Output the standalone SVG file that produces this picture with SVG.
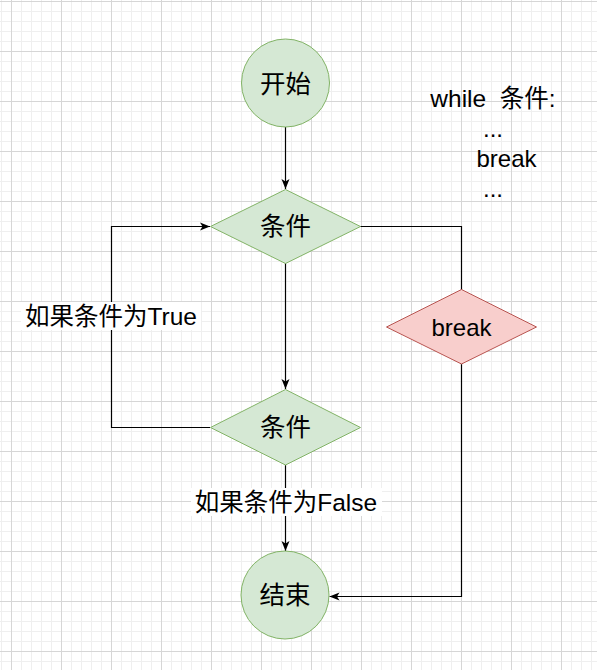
<svg xmlns="http://www.w3.org/2000/svg" width="597" height="670" viewBox="0 0 597 670">
<defs>
<pattern id="minor" x="1" y="1" width="10" height="10" patternUnits="userSpaceOnUse">
<path d="M0 0.5H10M0.5 0V10" fill="none" stroke="#efefef" stroke-width="1"/>
</pattern>
<pattern id="major" x="11" y="1" width="50" height="50" patternUnits="userSpaceOnUse">
<path d="M0 0.5H50M0.5 0V50" fill="none" stroke="#d6d6d6" stroke-width="1"/>
</pattern>
<marker id="arr" viewBox="0 0 10 10" refX="10" refY="5" markerWidth="10" markerHeight="10" markerUnits="userSpaceOnUse" orient="auto">
<path d="M0 1L10 5L0 9L2.5 5Z" fill="#000"/>
</marker>
</defs>
<style>
text{font-family:"Liberation Sans","Noto Sans CJK SC",sans-serif;font-size:24px;fill:#000;text-anchor:middle}
.cjk{font-size:25.5px}
.mix{font-size:24.5px}
.g{fill:#d5e8d4;stroke:#82b366;stroke-width:1}
.r{fill:#f8cecc;stroke:#b85450;stroke-width:1}
.c{fill:none;stroke:#000;stroke-width:1.2}
.lbl{fill:#fff}
</style>
<rect width="597" height="670" fill="#fff"/>
<rect width="597" height="670" fill="url(#minor)"/>
<rect width="597" height="670" fill="url(#major)"/>
<g id="connectors">
<path class="c" d="M285.5 127V189" marker-end="url(#arr)"/>
<path class="c" d="M285.5 263V389" marker-end="url(#arr)"/>
<path class="c" d="M210 427.5H111.5V226.5H210" marker-end="url(#arr)"/>
<path class="c" d="M360 226.5H461.5V290"/>
<path class="c" d="M461.5 364V596.5H329.5" marker-end="url(#arr)"/>
<path class="c" d="M285.5 465V551" marker-end="url(#arr)"/>
<rect class="lbl" x="21" y="302" width="180" height="28"/>
<text class="mix" x="111" y="325">如果条件为True</text>
<rect class="lbl" x="191" y="488" width="191" height="28"/>
<text class="mix" x="286" y="511">如果条件为False</text>
</g>
<g id="start">
<circle class="g" cx="285.5" cy="83" r="44"/>
<text class="cjk" x="285.5" y="93">开始</text>
</g>
<g id="cond1">
<path class="g" d="M285.5 189.5L360.5 226.5L285.5 263.5L210.5 226.5Z"/>
<text class="cjk" x="285.5" y="235">条件</text>
</g>
<g id="cond2">
<path class="g" d="M285.5 389.5L360.5 427.5L285.5 465L210.5 427.5Z"/>
<text class="cjk" x="285.5" y="436">条件</text>
</g>
<g id="break">
<path class="r" d="M461.5 289.5L536.5 327L461.5 364L386.5 327Z"/>
<text x="461.5" y="336">break</text>
</g>
<g id="end">
<circle class="g" cx="285" cy="595" r="44"/>
<text class="cjk" x="285" y="604">结束</text>
</g>
<g id="code">
<text class="mix" x="493" y="106.5" xml:space="preserve">while  条件:</text>
<text x="493" y="137">...</text>
<text x="506.5" y="166.5">break</text>
<text x="493" y="196.5">...</text>
</g>
</svg>
